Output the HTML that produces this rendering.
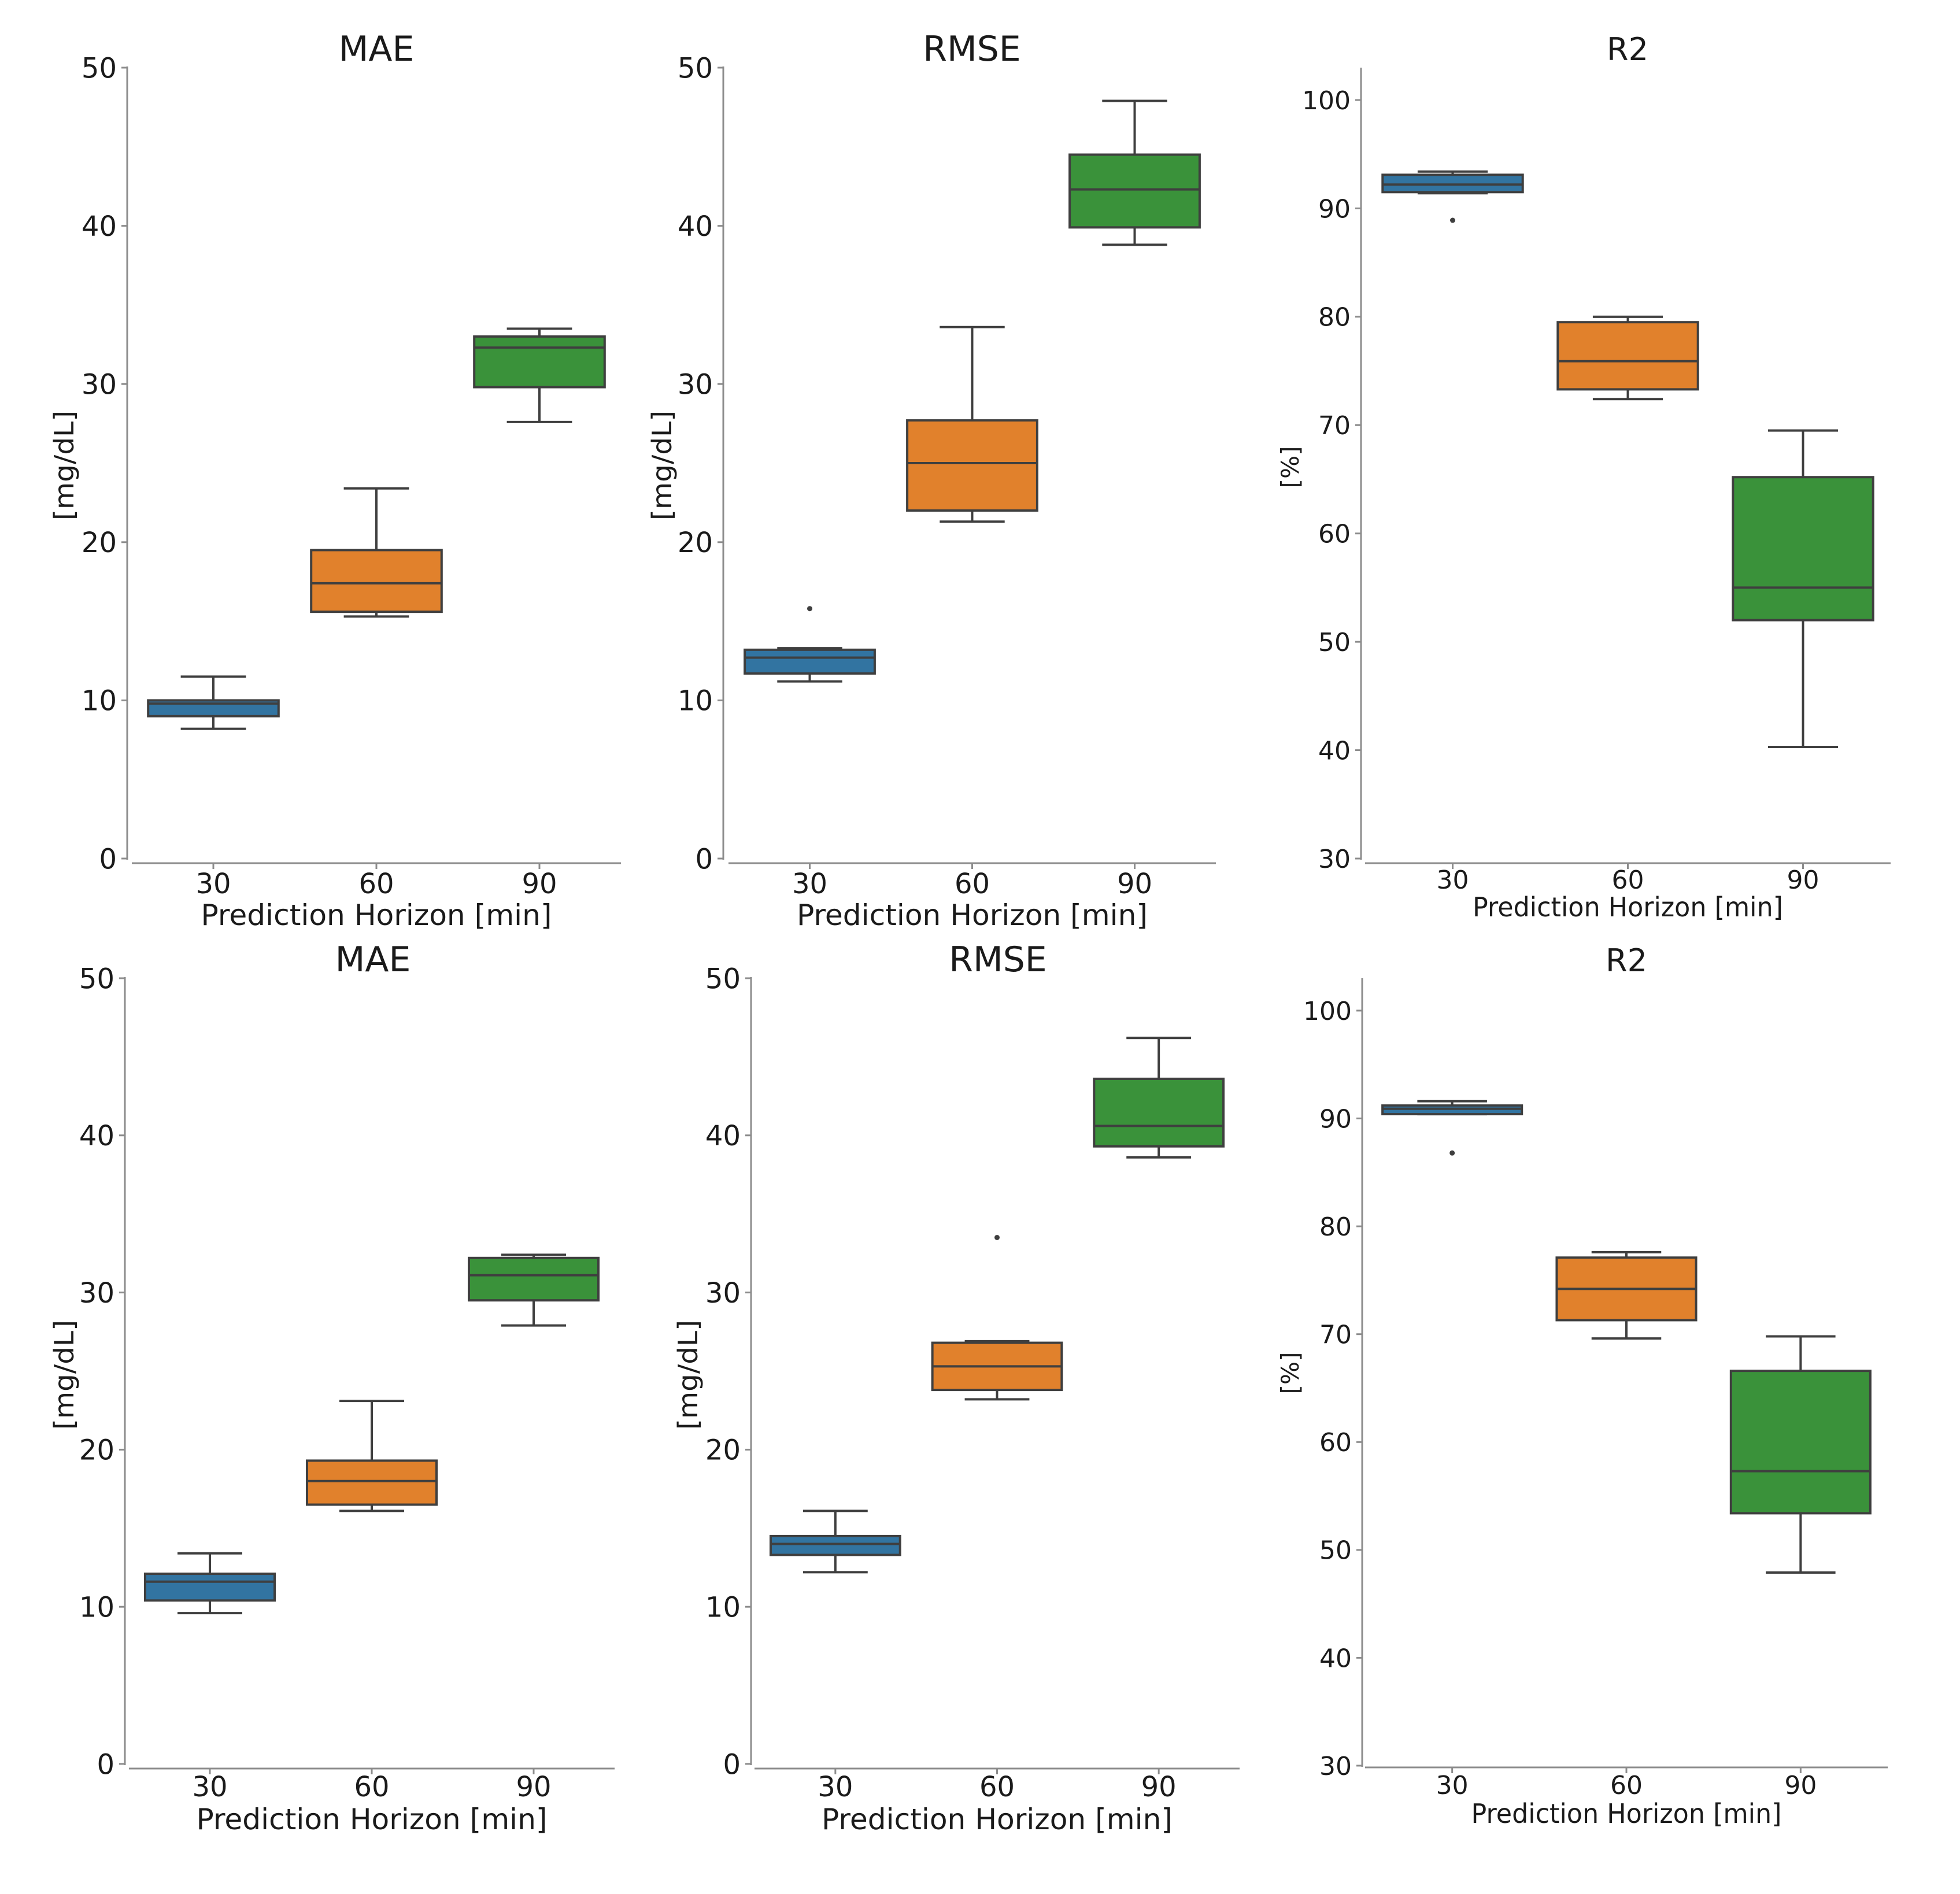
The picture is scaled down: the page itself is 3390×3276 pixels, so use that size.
<!DOCTYPE html>
<html><head><meta charset="utf-8"><style>
html,body{margin:0;padding:0;background:#fff;}
svg{display:block;}
text{font-family:"DejaVu Sans","Liberation Sans",sans-serif;fill:#1a1a1a;}
</style></head>
<body>
<svg id="fig" width="3390" height="3276" viewBox="0 0 3390 3276" xmlns="http://www.w3.org/2000/svg"></svg>
<script>
// ---- data (whisker low, q1, median, q3, whisker high, outliers) ----
const categories = ["30","60","90"];
const maeTopLo  = [8.2, 15.3, 27.6];
const maeTopQ1  = [9.0, 15.6, 29.8];
const maeTopMed = [9.8, 17.4, 32.3];
const maeTopQ3  = [10.0, 19.5, 33.0];
const maeTopHi  = [11.5, 23.4, 33.5];
const maeTopOut = [[], [], []];

const rmseTopLo  = [11.2, 21.3, 38.8];
const rmseTopQ1  = [11.7, 22.0, 39.9];
const rmseTopMed = [12.7, 25.0, 42.3];
const rmseTopQ3  = [13.2, 27.7, 44.5];
const rmseTopHi  = [13.3, 33.6, 47.9];
const rmseTopOut = [[15.8], [], []];

const r2TopLo  = [91.4, 72.4, 40.3];
const r2TopQ1  = [91.5, 73.3, 52.0];
const r2TopMed = [92.2, 75.9, 55.0];
const r2TopQ3  = [93.1, 79.5, 65.2];
const r2TopHi  = [93.4, 80.0, 69.5];
const r2TopOut = [[88.9], [], []];

const maeBotLo  = [9.6, 16.1, 27.9];
const maeBotQ1  = [10.4, 16.5, 29.5];
const maeBotMed = [11.6, 18.0, 31.1];
const maeBotQ3  = [12.1, 19.3, 32.2];
const maeBotHi  = [13.4, 23.1, 32.4];
const maeBotOut = [[], [], []];

const rmseBotLo  = [12.2, 23.2, 38.6];
const rmseBotQ1  = [13.3, 23.8, 39.3];
const rmseBotMed = [14.0, 25.3, 40.6];
const rmseBotQ3  = [14.5, 26.8, 43.6];
const rmseBotHi  = [16.1, 26.9, 46.2];
const rmseBotOut = [[], [33.5], []];

const r2BotLo  = [90.4, 69.6, 47.9];
const r2BotQ1  = [90.4, 71.3, 53.4];
const r2BotMed = [90.9, 74.2, 57.3];
const r2BotQ3  = [91.2, 77.1, 66.6];
const r2BotHi  = [91.6, 77.6, 69.8];
const r2BotOut = [[86.8], [], []];

const mgTicks = [0,10,20,30,40,50];
const pctTicks = [30,40,50,60,70,80,90,100];
const colors = ["#3274a1","#e1812c","#3a923a"];

const NS = "http://www.w3.org/2000/svg";
const svg = document.getElementById("fig");
function mk(tag, attrs, parent){
  const e = document.createElementNS(NS, tag);
  for (const k in attrs) e.setAttribute(k, attrs[k]);
  (parent||svg).appendChild(e);
  return e;
}

function panel(p){
  const g = mk("g", {});
  
  
  const yS = v => p.yB + (v - p.vmin) * (p.yT - p.yB) / (p.vmax - p.vmin);
  const step = (p.xR - p.xL) / categories.length;
  const xS = i => p.xL + step * (i + 0.5);
  const bw = step * 0.8;
  const axisCol = "#8c8c8c";
  // y axis
  const ya = mk("line", {x1:p.ax, x2:p.ax, y1:p.axTop, y2:p.yB+2, stroke:axisCol, "stroke-width":3}, g);
  
  
  const xa = mk("line", {x1:p.xL, x2:p.xR, y1:p.xAxisY, y2:p.xAxisY, stroke:axisCol, "stroke-width":3}, g);
  
  
  p.ticks.forEach(t => {
    const y = yS(t);
    const tl = mk("line", {x1:p.ax-10, x2:p.ax, y1:y, y2:y, stroke:axisCol, "stroke-width":3}, g);
    
    
    const tx = mk("text", {x:p.ax-18, y:y+p.tf*0.36, "text-anchor":"end", "font-size":p.tf}, g);
    
    
    tx.textContent = t;
  });
  categories.forEach((c, i) => {
    const x = xS(i);
    const tl = mk("line", {x1:x, x2:x, y1:p.xAxisY, y2:p.xAxisY+10, stroke:axisCol, "stroke-width":3}, g);
    
    
    const tx = mk("text", {x:x, y:p.xtY, "text-anchor":"middle", "font-size":p.tf}, g);
    
    
    tx.textContent = c;
    const ec = "#3f3f3f";
    const w1 = mk("line", {x1:x, x2:x, y1:yS(p.q3[i]), y2:yS(p.hi[i]), stroke:ec, "stroke-width":4}, g);
    
    
    const w2 = mk("line", {x1:x, x2:x, y1:yS(p.q1[i]), y2:yS(p.lo[i]), stroke:ec, "stroke-width":4}, g);
    
    
    const c1 = mk("line", {x1:x-bw/4, x2:x+bw/4, y1:yS(p.hi[i]), y2:yS(p.hi[i]), stroke:ec, "stroke-width":4}, g);
    
    
    const c2 = mk("line", {x1:x-bw/4, x2:x+bw/4, y1:yS(p.lo[i]), y2:yS(p.lo[i]), stroke:ec, "stroke-width":4}, g);
    
    
    const r = mk("rect", {x:x-bw/2, y:yS(p.q3[i]), width:bw, height:yS(p.q1[i])-yS(p.q3[i]), fill:colors[i], stroke:ec, "stroke-width":4}, g);
    
    
    const m = mk("line", {x1:x-bw/2, x2:x+bw/2, y1:yS(p.med[i]), y2:yS(p.med[i]), stroke:ec, "stroke-width":4}, g);
    
    
    p.out[i].forEach(v => {
      const o = mk("circle", {cx:x, cy:yS(v), r:4.5, fill:"#3f3f3f"}, g);
      
      
    });
  });
  const ti = mk("text", {x:p.titleX, y:p.titleY, "text-anchor":"middle", "font-size":p.titleF}, g);
  
  
  ti.textContent = p.title;
  const xl = mk("text", {x:(p.xL+p.xR)/2, y:p.xlY, "text-anchor":"middle", "font-size":p.xlF, textLength:p.xlLen, lengthAdjust:"spacingAndGlyphs"}, g);
  
  
  xl.textContent = "Prediction Horizon [min]";
  const yl = mk("text", {x:0, y:0, "text-anchor":"middle", "font-size":p.ylF, textLength:p.ylLen, lengthAdjust:"spacingAndGlyphs", transform:`translate(${p.ylX},${p.ylY}) rotate(-90)`}, g);
  
  
  yl.textContent = p.ylabel;
}

// top row
panel({name:"mae-top-panel", title:"MAE", ylabel:"[mg/dL]", ticks:mgTicks, vmin:0, vmax:50,
  ax:220, axTop:115, yT:117, yB:1485, xL:228, xR:1074, xAxisY:1493,
  lo:maeTopLo,q1:maeTopQ1,med:maeTopMed,q3:maeTopQ3,hi:maeTopHi,out:maeTopOut,
  tf:48, xtY:1545, titleX:651, titleY:105, titleF:60, xlY:1600, xlF:50, xlLen:607,
  ylX:127, ylY:805, ylF:46, ylLen:190});
panel({name:"rmse-top-panel", title:"RMSE", ylabel:"[mg/dL]", ticks:mgTicks, vmin:0, vmax:50,
  ax:1251, axTop:115, yT:117, yB:1485, xL:1260, xR:2103, xAxisY:1493,
  lo:rmseTopLo,q1:rmseTopQ1,med:rmseTopMed,q3:rmseTopQ3,hi:rmseTopHi,out:rmseTopOut,
  tf:48, xtY:1545, titleX:1681, titleY:105, titleF:60, xlY:1600, xlF:50, xlLen:607,
  ylX:1161, ylY:805, ylF:46, ylLen:190});
panel({name:"r2-top-panel", title:"R2", ylabel:"[%]", ticks:pctTicks, vmin:30, vmax:100,
  ax:2354, axTop:117, yT:173, yB:1485, xL:2361, xR:3270, xAxisY:1493,
  lo:r2TopLo,q1:r2TopQ1,med:r2TopMed,q3:r2TopQ3,hi:r2TopHi,out:r2TopOut,
  tf:44, xtY:1537, titleX:2815, titleY:104, titleF:54, xlY:1585, xlF:46, xlLen:537,
  ylX:2246, ylY:808, ylF:42, ylLen:73});
// bottom row
panel({name:"mae-bottom-panel", title:"MAE", ylabel:"[mg/dL]", ticks:mgTicks, vmin:0, vmax:50,
  ax:216, axTop:1690, yT:1692, yB:3051, xL:223, xR:1063, xAxisY:3059,
  lo:maeBotLo,q1:maeBotQ1,med:maeBotMed,q3:maeBotQ3,hi:maeBotHi,out:maeBotOut,
  tf:48, xtY:3107, titleX:645, titleY:1680, titleF:60, xlY:3164, xlF:50, xlLen:607,
  ylX:127, ylY:2378, ylF:46, ylLen:190});
panel({name:"rmse-bottom-panel", title:"RMSE", ylabel:"[mg/dL]", ticks:mgTicks, vmin:0, vmax:50,
  ax:1299, axTop:1690, yT:1692, yB:3051, xL:1305, xR:2144, xAxisY:3059,
  lo:rmseBotLo,q1:rmseBotQ1,med:rmseBotMed,q3:rmseBotQ3,hi:rmseBotHi,out:rmseBotOut,
  tf:48, xtY:3107, titleX:1726, titleY:1680, titleF:60, xlY:3164, xlF:50, xlLen:607,
  ylX:1206, ylY:2378, ylF:46, ylLen:190});
panel({name:"r2-bottom-panel", title:"R2", ylabel:"[%]", ticks:pctTicks, vmin:30, vmax:100,
  ax:2356, axTop:1692, yT:1748, yB:3054, xL:2361, xR:3265, xAxisY:3057,
  lo:r2BotLo,q1:r2BotQ1,med:r2BotMed,q3:r2BotQ3,hi:r2BotHi,out:r2BotOut,
  tf:44, xtY:3103, titleX:2813, titleY:1680, titleF:54, xlY:3153, xlF:46, xlLen:537,
  ylX:2246, ylY:2375, ylF:42, ylLen:73});
</script>
</body></html>
